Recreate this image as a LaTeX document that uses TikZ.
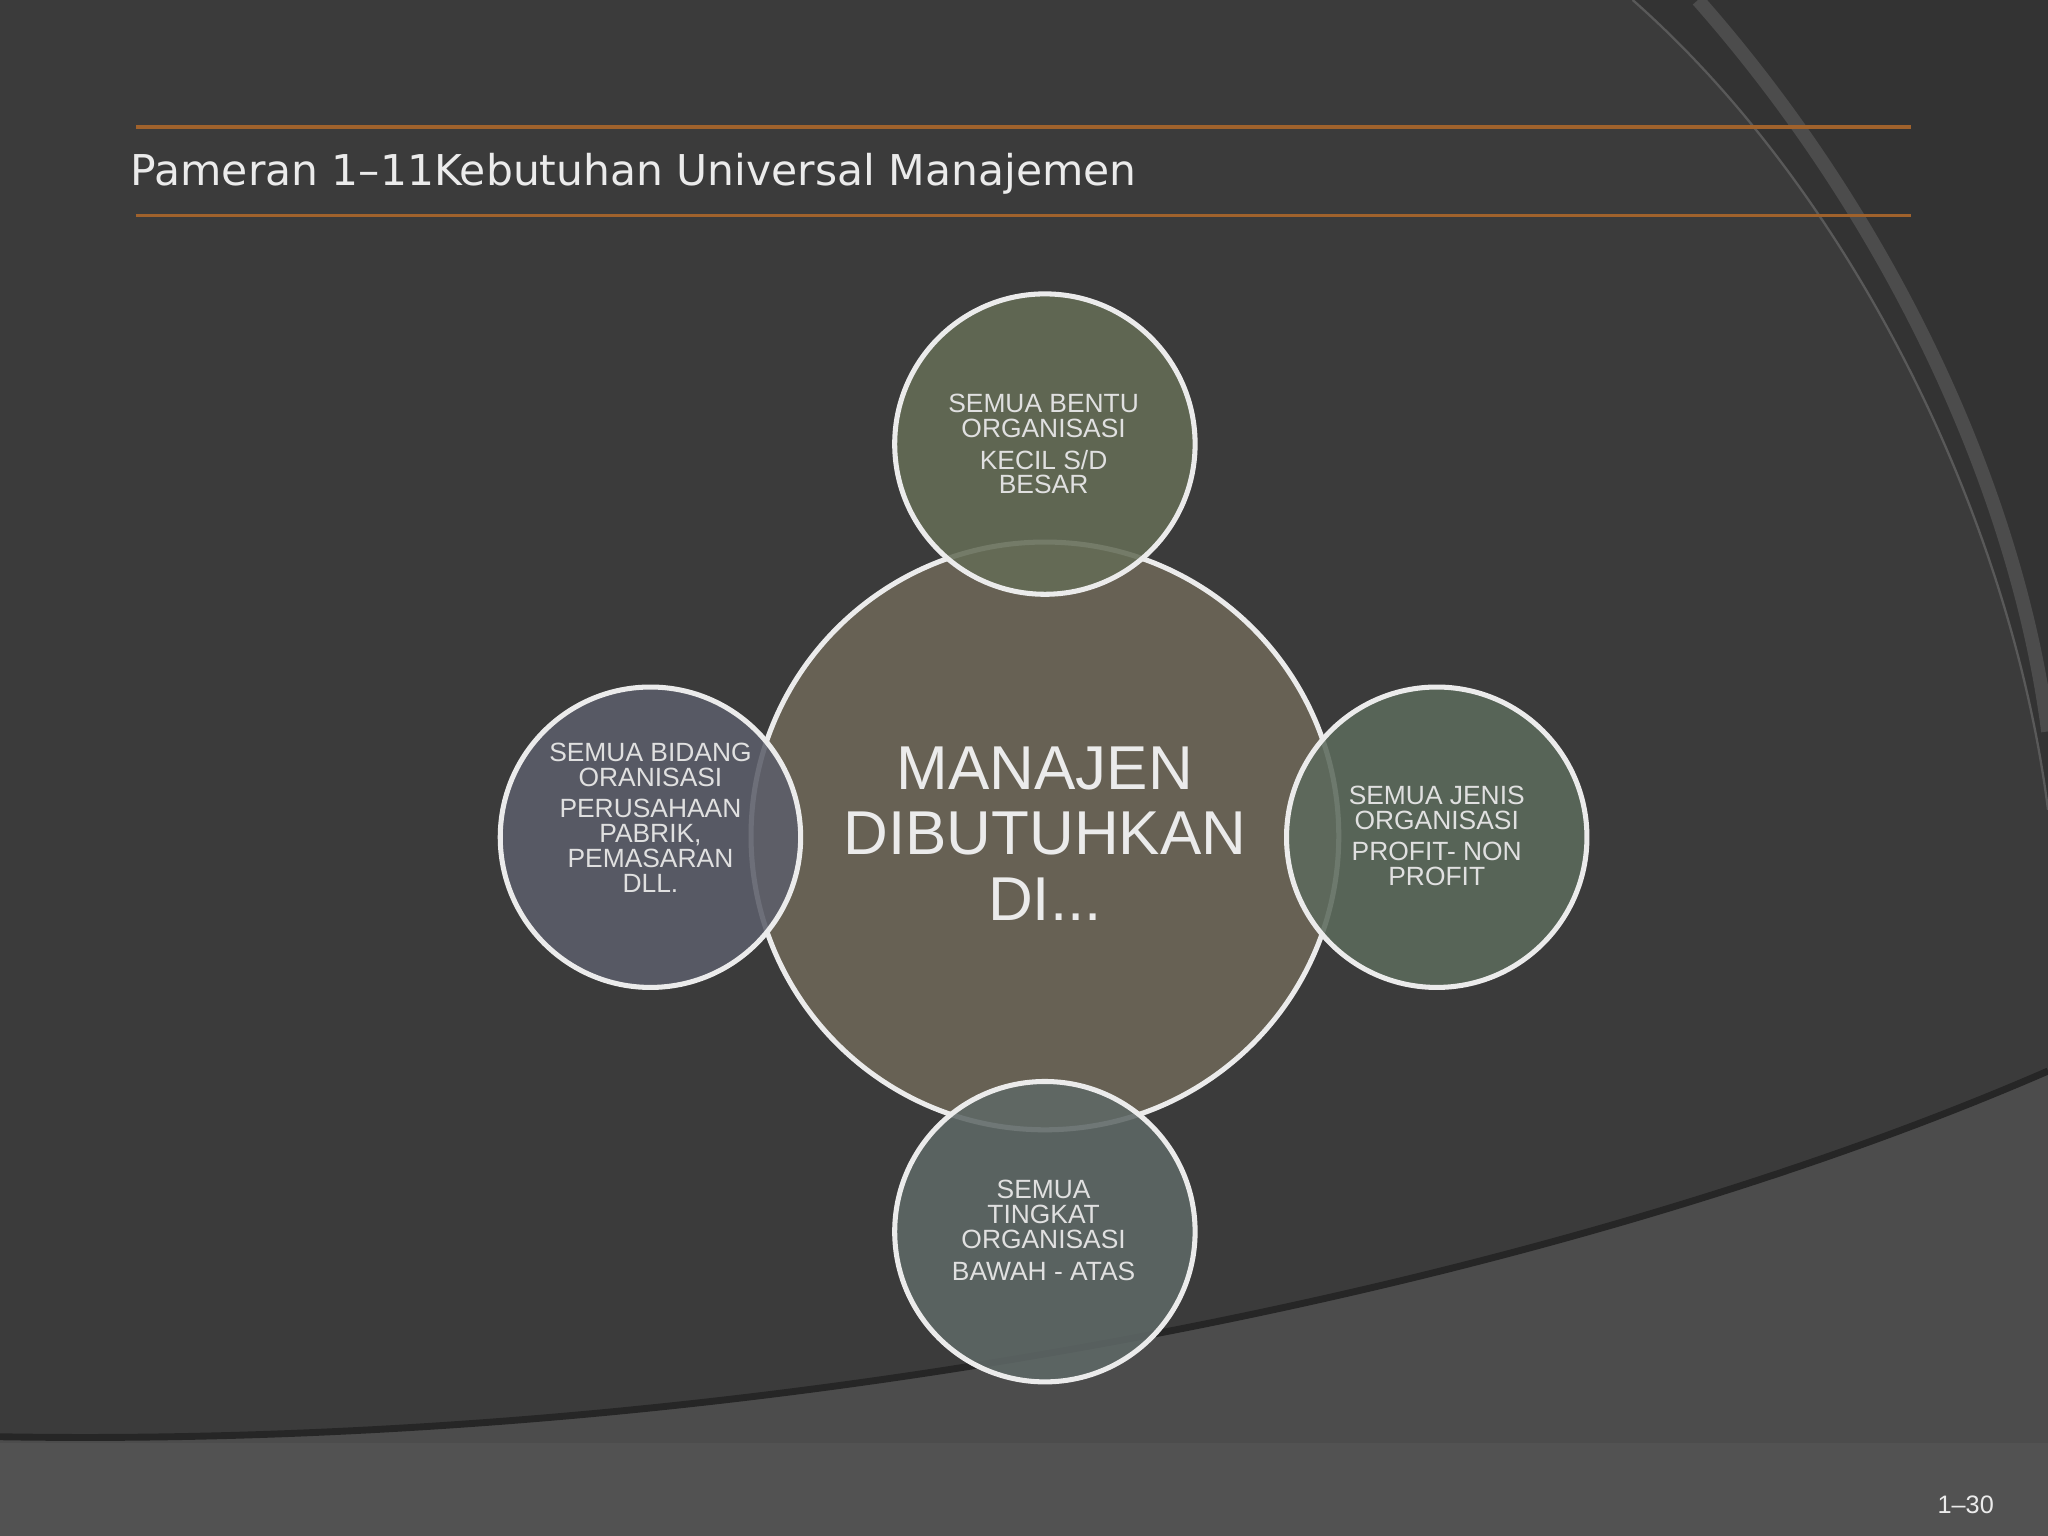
\documentclass[tikz,border=0pt]{standalone}
\usepackage{fontspec}
\setmainfont{Liberation Sans}
\newfontfamily\titlefont{DejaVu Sans}
\begin{document}
\begin{tikzpicture}[x=0.02cm,y=-0.02cm,
  ring/.style={draw=white!92!black,line width=2.2pt,fill opacity=0.88},
  small/.style={text=white!88!black,align=center,font=\fontsize{11.5}{10.8}\selectfont}]
\useasboundingbox (0,0) rectangle (1568,1176);
\fill[black!77] (0,0) rectangle (1568,1176);
% right arcs
\fill[black!80] (1250,0) .. controls (1420,150) and (1540,400) .. (1568,620) -- (1568,0) -- cycle;
\draw[black!65,line width=1pt] (1250,0) .. controls (1420,150) and (1540,400) .. (1568,620);
\draw[black!70,line width=6pt] (1300,0) .. controls (1450,170) and (1545,380) .. (1568,560);
% bottom band
\fill[black!70] (0,1100) .. controls (600,1110) and (1200,980) .. (1568,820) -- (1568,1176) -- (0,1176) -- cycle;
\fill[black!68] (0,1105) rectangle (1568,1176);
\draw[black!85,line width=3pt] (0,1100) .. controls (600,1110) and (1200,980) .. (1568,820);
% title
\draw[draw={rgb,255:red,160;green,98;blue,44},line width=1.6pt] (104,97) -- (1463,97);
\draw[draw={rgb,255:red,160;green,98;blue,44},line width=1.6pt] (104,165) -- (1463,165);
\node[anchor=west,text=white!92!black,font=\titlefont\fontsize{18.5}{22}\selectfont] (title) at (94,133) {Pameran 1–11Kebutuhan Universal Manajemen};
% circles
\node[ring,circle,minimum size=450*0.02cm,fill={rgb,255:red,110;green,103;blue,88}] (c) at (800,640) {};
\node[ring,circle,minimum size=230*0.02cm,fill={rgb,255:red,100;green,108;blue,86}] (t) at (800,340) {};
\node[ring,circle,minimum size=230*0.02cm,fill={rgb,255:red,92;green,94;blue,106}] (l) at (498,641) {};
\node[ring,circle,minimum size=230*0.02cm,fill={rgb,255:red,92;green,106;blue,92}] (r) at (1100,641) {};
\node[ring,circle,minimum size=230*0.02cm,fill={rgb,255:red,94;green,104;blue,102}] (b) at (800,943) {};
% texts
\node[text=white!92!black,align=center,font=\fontsize{27}{28.5}\selectfont] (ct) at (800,638) {MANAJEN\\DIBUTUHKAN\\DI...};
\node[small] (tt) at (799,340) {SEMUA BENTU\\ORGANISASI\\[3pt]KECIL S/D\\BESAR};
\node[small] (lt) at (498,626) {SEMUA BIDANG\\ORANISASI\\[3pt]PERUSAHAAN\\PABRIK,\\PEMASARAN\\DLL.};
\node[small] (rt) at (1100,640) {SEMUA JENIS\\ORGANISASI\\[3pt]PROFIT- NON\\PROFIT};
\node[small] (bt) at (799,942) {SEMUA\\TINGKAT\\ORGANISASI\\[3pt]BAWAH - ATAS};
\node[text=white!92!black,font=\fontsize{11}{13}\selectfont] (pg) at (1505,1152) {1–30};
\end{tikzpicture}
\end{document}
